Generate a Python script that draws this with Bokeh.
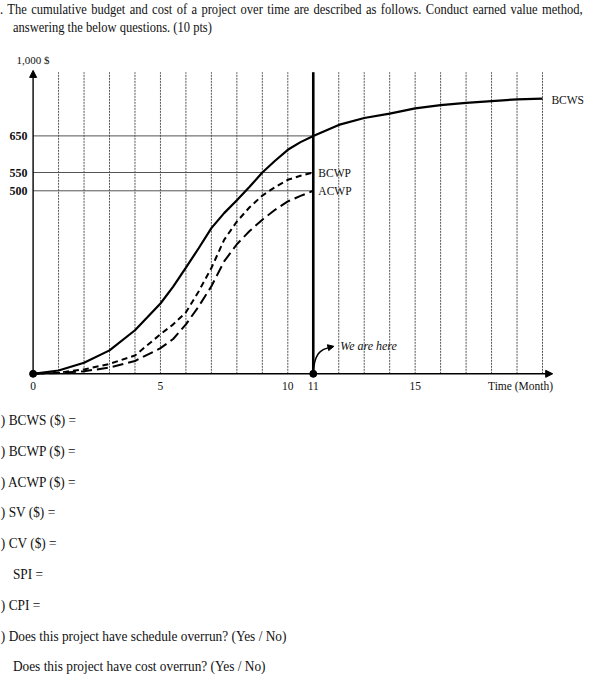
from bokeh.plotting import figure
from bokeh.models import FixedTicker, Arrow, NormalHead, Label, Div, Range1d, LinearAxis
from bokeh.layouts import column
from bokeh.embed import file_html
from bokeh.resources import INLINE

# ---------------- data ----------------
months = [0, 1, 2, 3, 4, 5, 5.5, 6, 6.5, 7, 7.5, 8, 8.5, 9, 9.5, 10, 10.5, 11]
bcws_to_date = [0, 9, 30, 64, 119, 192, 238, 290, 343, 398, 439, 474, 511, 550, 582, 612, 633, 650]
future_months = [12, 13, 14, 15, 16, 17, 18, 19, 20]
bcws_future = [680, 699, 711, 725, 734, 740, 745, 750, 752]
bcwp = [0, 3, 12, 27, 50, 108, 135, 168, 225, 289, 366, 416, 455, 487, 510, 530, 541, 550]
acwp = [0, 2, 7, 17, 35, 70, 95, 135, 184, 239, 307, 354, 390, 421, 448, 471, 486, 500]
status_month = 11
x_ticks = [0, 5, 10, 11, 15]
y_ticks = [500, 550, 650]
grid_months = list(range(1, 21))
grid_top = 824
axis_top = 829
axis_right = 20.4
y_unit_label = "1,000 $"
x_axis_label = "Time (Month)"
x_axis_label_pos = 19.14
here_label = "We are here"

header_lines = [
    ". The cumulative budget and cost of a project over time are described as follows. Conduct earned value method,",
    "answering the below questions. (10 pts)",
]
questions = [
    (") BCWS ($) =", 0),
    (") BCWP ($) =", 0),
    (") ACWP ($) =", 0),
    (") SV ($) =", 0),
    (") CV ($) =", 0),
    ("SPI =", 1),
    (") CPI =", 0),
    (") Does this project have schedule overrun? (Yes / No)", 0),
    ("Does this project have cost overrun? (Yes / No)", 1),
]

# ---------------- layout constants ----------------
PAGE_W = 597
HEADER_H = 45
FIG_H = 360
Q_H = 280
PX_X = 25.47          # pixels per month
PX_Y = 0.366          # pixels per 1,000 $ unit
ORIGIN_X = 32.6       # page px of month 0
ORIGIN_Y = 373.3      # page px of value 0
FRAME_TOP = 67        # page px
FRAME_BOTTOM = 379    # page px
BORDER_L = 28
BORDER_T = FRAME_TOP - HEADER_H
BORDER_B = HEADER_H + FIG_H - FRAME_BOTTOM

x0 = -(ORIGIN_X - BORDER_L) / PX_X
x1 = x0 + (PAGE_W - BORDER_L) / PX_X
y1 = (ORIGIN_Y - FRAME_TOP) / PX_Y
y0 = (ORIGIN_Y - FRAME_BOTTOM) / PX_Y

SERIF = "Liberation Serif"
TXT = "#111111"

p = figure(width=PAGE_W, height=FIG_H, x_range=Range1d(x0, x1), y_range=Range1d(y0, y1),
           output_backend="svg", toolbar_location=None,
           min_border_left=BORDER_L, min_border_right=0, min_border_top=BORDER_T,
           min_border_bottom=BORDER_B, outline_line_color=None, margin=0)
p.grid.visible = False

# axes: only the tick labels come from Bokeh axes, the axis lines are arrows
def style_axis(ax, size="11.5px", bold=False, standoff=0):
    ax.axis_line_color = None
    ax.major_tick_line_color = None
    ax.minor_tick_line_color = None
    ax.major_tick_out = 0
    ax.major_tick_in = 0
    ax.minor_tick_out = 0
    ax.minor_tick_in = 0
    ax.major_label_standoff = standoff
    ax.major_label_text_font = SERIF
    ax.major_label_text_font_size = size
    ax.major_label_text_color = TXT
    if bold:
        ax.major_label_text_font_style = "bold"

xa = p.xaxis[0]
style_axis(xa, standoff=0)
xa.ticker = FixedTicker(ticks=x_ticks + [x_axis_label_pos])
xa.major_label_overrides = {x_axis_label_pos: x_axis_label}

ya = p.yaxis[0]
style_axis(ya, size="12px", bold=True, standoff=1)
ya.ticker = FixedTicker(ticks=y_ticks)

top_axis = LinearAxis(ticker=FixedTicker(ticks=[0]), major_label_overrides={0: y_unit_label})
style_axis(top_axis, size="11px", standoff=2)
p.add_layout(top_axis, "above")

# axis lines with arrow heads
p.add_layout(Arrow(end=NormalHead(size=7, fill_color="black", line_color="black"),
                   x_start=0, y_start=0, x_end=0, y_end=axis_top,
                   line_color="black", line_width=1.4))
p.add_layout(Arrow(end=NormalHead(size=7, fill_color="black", line_color="black"),
                   x_start=0, y_start=0, x_end=axis_right, y_end=0,
                   line_color="black", line_width=1.4))

# month lines and value guide lines
n = len(grid_months)
p.segment(x0=grid_months, y0=[0] * n, x1=grid_months, y1=[grid_top] * n,
          line_color="#555555", line_width=1, line_dash="2 1")
m = len(y_ticks)
p.segment(x0=[0] * m, y0=y_ticks, x1=[status_month] * m, y1=y_ticks,
          line_color="#555555", line_width=1)

# status line
p.segment(x0=[status_month], y0=[0], x1=[status_month], y1=[grid_top],
          line_color="black", line_width=2.6)

# curves
p.line(months + future_months, bcws_to_date + bcws_future, line_color="black", line_width=2.2)
p.line(months, bcwp, line_color="black", line_width=2, line_dash="6 4")
p.line(months, acwp, line_color="black", line_width=2, line_dash="11 5")

p.scatter([0, status_month], [0, 0], size=7, color="black")

# curved "we are here" arrow
p.bezier(x0=[status_month], y0=[0], x1=[status_month + 0.72], y1=[72],
         cx0=[status_month + 0.02], cy0=[50], cx1=[status_month + 0.25], cy1=[70],
         line_color="black", line_width=1.5)
p.add_layout(Arrow(end=NormalHead(size=6, fill_color="black", line_color="black"),
                   x_start=status_month + 0.62, y_start=72, x_end=status_month + 0.81, y_end=75,
                   line_color="black", line_width=1.5))

def lab(x, y, text, align="left", style="normal", size="11.5px"):
    p.add_layout(Label(x=x, y=y, text=text, text_align=align, text_baseline="middle",
                       text_font=SERIF, text_font_size=size, text_font_style=style,
                       text_color=TXT))

lab(future_months[-1] + 0.35, bcws_future[-1] - 4, "BCWS")
lab(status_month + 0.2, bcwp[-1], "BCWP")
lab(status_month + 0.2, acwp[-1], "ACWP")
lab(status_month + 1.06, 75, here_label, style="italic", size="12px")

# ---------------- text blocks ----------------
SCALE = 0.835
hdr_html = (
    f"<div style=\"font-family:'{SERIF}';font-size:15px;line-height:18px;white-space:nowrap;"
    f"color:{TXT};transform:scaleX({SCALE});transform-origin:0 0;\">"
    f"<span style='word-spacing:1.5px'>{header_lines[0]}</span><br>"
    f"<span style='padding-left:15.5px'>{header_lines[1]}</span></div>"
)
header = Div(text=hdr_html, width=PAGE_W, height=HEADER_H, margin=0)

q_rows = "".join(
    f"<div style='padding-left:{1 + 14 * ind}px;height:30.8px;line-height:30.8px'>"
    f"{t.replace('$', '&#36;')}</div>" for t, ind in questions
)
q_html = (
    f"<div style=\"font-family:'{SERIF}';font-size:15.5px;white-space:nowrap;color:{TXT};"
    f"transform:scaleX(0.86);transform-origin:0 0;\">{q_rows}</div>"
)
qdiv = Div(text=q_html, width=PAGE_W, height=Q_H, margin=0)

root = column(header, p, qdiv, spacing=0)

open("out.html", "w").write(file_html(root, INLINE))
